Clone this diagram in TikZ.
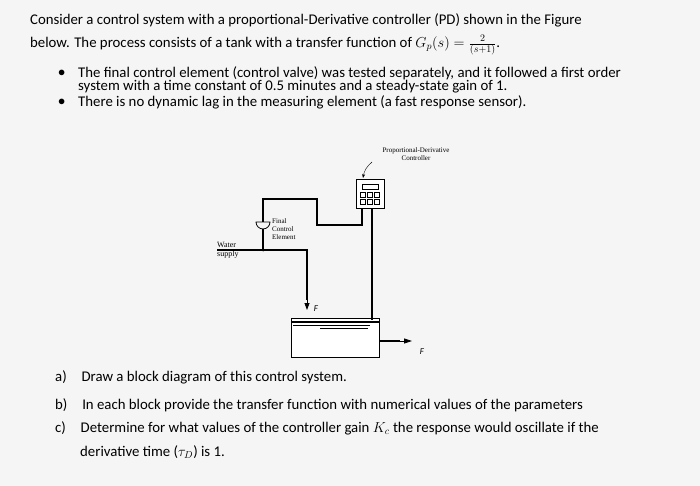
\documentclass[tikz,border=0pt]{standalone}
\usepackage{fontspec}
\setmainfont{Carlito}
\newfontfamily\serifB{Liberation Serif}
\usetikzlibrary{arrows.meta}
\begin{document}
\begin{tikzpicture}[x=1pt,y=-1pt,
  pipe/.style={line width=1.6pt},
  txt/.style={anchor=west,inner sep=0pt,font=\fontsize{14.8}{16}\selectfont},
  lbl/.style={inner sep=0pt,font=\serifB\fontsize{7}{8}\selectfont,align=left}]
\fill[gray!8] (0,0) rectangle (700,486);
\useasboundingbox (0,0) rectangle (700,486);
% text
\node[txt] (t1) at (30,20) {Consider a control system with a proportional-Derivative controller (PD) shown in the Figure};
\node[txt] (t2) at (30,45) {below. The process consists of a tank with a transfer function of $G_p(s)=\frac{2}{(s+1)}$.};
\node[txt] (b1) at (58,73) {$\bullet$};
\node[txt] (t3) at (78,73) {The final control element (control valve) was tested separately, and it followed a first order};
\node[txt] (t4) at (78,87) {system with a time constant of 0.5 minutes and a steady-state gain of 1.};
\node[txt] (b2) at (58,102) {$\bullet$};
\node[txt] (t5) at (78,102) {There is no dynamic lag in the measuring element (a fast response sensor).};
\node[txt] (q1) at (55,377) {a)\quad Draw a block diagram of this control system.};
\node[txt] (q2) at (55,405) {b)\quad In each block provide the transfer function with numerical values of the parameters};
\node[txt] (q3) at (55,428) {c)\quad Determine for what values of the controller gain $K_c$ the response would oscillate if the};
\node[txt] (q4) at (80,452) {derivative time ($\tau_D$) is 1.};
% controller
\node[draw,thick,fill=white,minimum width=28,minimum height=29,inner sep=0] (pd) at (370,193.5) {};
\draw (362,184) rectangle (378,189);
\foreach \i in {0,1,2}{\draw (360+\i*7,192) rectangle +(5,5); \draw (360+\i*7,199) rectangle +(5,5);}
\node[lbl,align=center] (pdl) at (416,154) {Proportional-Derivative\\Controller};
\draw[-{Stealth[length=4pt]}] (372,162) to[bend right=20] (363,178);
% tank
\node[draw,thick,fill=white,minimum width=88,minimum height=39,inner sep=0] (tank) at (335,337.5) {};
\draw[line width=1.2pt] (291,322) -- (379,322);
\draw (293,325) -- (370,325); \draw (320,328) -- (368,328);
% pipes
\draw[pipe] (217,250) -- (307,250) -- (307,300);
\draw[-{Triangle[length=7pt,width=5pt]},thick] (307,296) -- (307,310);
\draw[pipe] (263,250) -- (263,199) -- (317,199) -- (317,225) -- (362,225) -- (362,208);
\draw[pipe] (372,208) -- (372,320);
\draw[pipe] (379,341) -- (400,341);
\draw[-{Triangle[length=8pt,width=5pt]},thick] (398,341) -- (412,341);
\fill (263,250) circle (1.5);
% valve dome
\draw[thick,fill=gray!8] (256,222) arc (180:0:7) -- cycle;
\node[lbl,anchor=west] (fce) at (272,229) {Final\\Control\\Element};
\node[lbl,anchor=west,font=\serifB\fontsize{8}{9}\selectfont] (ws) at (217,250) {Water\\supply};
\node[inner sep=0,font=\itshape\fontsize{9}{9}\selectfont] (f1) at (316,309) {F};
\node[inner sep=0,font=\itshape\fontsize{9}{9}\selectfont] (f2) at (422,352) {F};
\end{tikzpicture}
\end{document}
